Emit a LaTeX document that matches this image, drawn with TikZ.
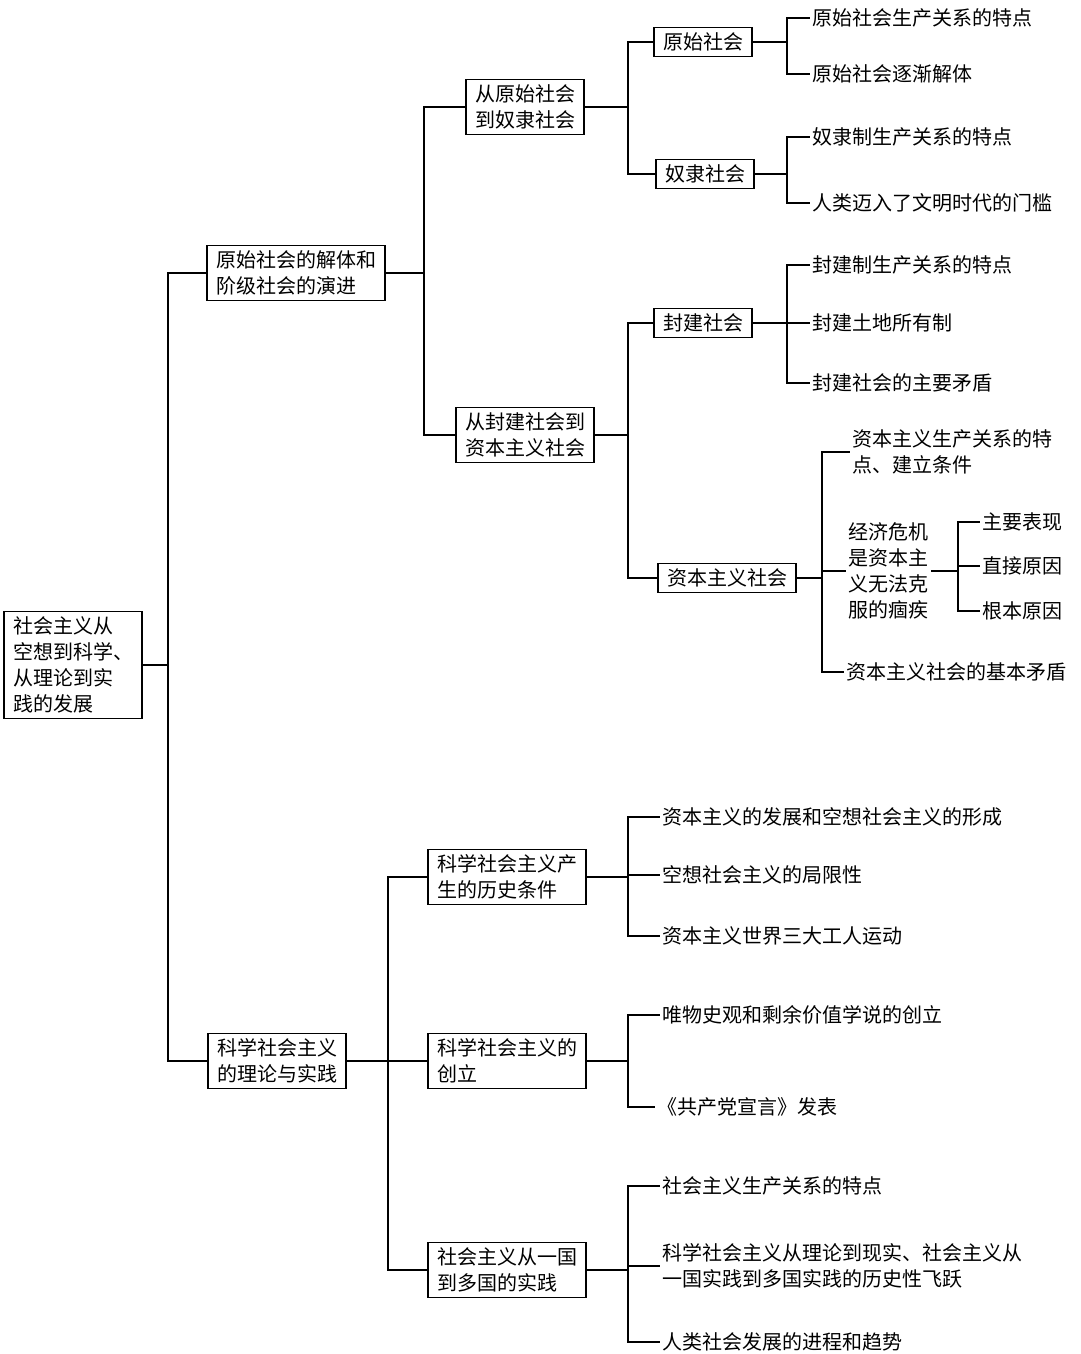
\documentclass[tikz,border=0pt]{standalone}
\usepackage{fontspec}
\setmainfont{Noto Sans CJK SC}
\begin{document}
\begin{tikzpicture}[x=1pt,y=-1pt,line width=1.1pt,
  box/.style={draw,align=left,inner xsep=9pt,inner ysep=5pt,font=\fontsize{20}{26}\selectfont},
  leaf/.style={anchor=west,align=left,inner sep=2pt,font=\fontsize{20}{26}\selectfont}]
\useasboundingbox (0,0) rectangle (1080,1354);
% boxes
\node[box] (r) at (73,665) {社会主义从\\空想到科学、\\从理论到实\\践的发展};
\node[box] (a) at (296,273) {原始社会的解体和\\阶级社会的演进};
\node[box] (b) at (277,1061) {科学社会主义\\的理论与实践};
\node[box] (a1) at (525,107) {从原始社会\\到奴隶社会};
\node[box] (a2) at (525,435) {从封建社会到\\资本主义社会};
\node[box] (y) at (703,42) {原始社会};
\node[box] (n) at (705,174) {奴隶社会};
\node[box] (f) at (703,323) {封建社会};
\node[box] (z) at (727,578) {资本主义社会};
\node[box] (b1) at (507,877) {科学社会主义产\\生的历史条件};
\node[box] (b2) at (507,1061) {科学社会主义的\\创立};
\node[box] (b3) at (507,1270) {社会主义从一国\\到多国的实践};
% leaves
\node[leaf] (y1) at (810,18) {原始社会生产关系的特点};
\node[leaf] (y2) at (810,74) {原始社会逐渐解体};
\node[leaf] (n1) at (810,137) {奴隶制生产关系的特点};
\node[leaf] (n2) at (810,203) {人类迈入了文明时代的门槛};
\node[leaf] (f1) at (810,265) {封建制生产关系的特点};
\node[leaf] (f2) at (810,323) {封建土地所有制};
\node[leaf] (f3) at (810,383) {封建社会的主要矛盾};
\node[leaf] (z1) at (850,452) {资本主义生产关系的特\\点、建立条件};
\node[leaf] (z2) at (846,571) {经济危机\\是资本主\\义无法克\\服的痼疾};
\node[leaf] (z3) at (844,672) {资本主义社会的基本矛盾};
\node[leaf] (j1) at (980,522) {主要表现};
\node[leaf] (j2) at (980,566) {直接原因};
\node[leaf] (j3) at (980,611) {根本原因};
\node[leaf] (c1) at (660,817) {资本主义的发展和空想社会主义的形成};
\node[leaf] (c2) at (660,875) {空想社会主义的局限性};
\node[leaf] (c3) at (660,936) {资本主义世界三大工人运动};
\node[leaf] (d1) at (660,1015) {唯物史观和剩余价值学说的创立};
\node[leaf] (d2) at (655,1107) {《共产党宣言》发表};
\node[leaf] (e1) at (660,1186) {社会主义生产关系的特点};
\node[leaf] (e2) at (660,1266) {科学社会主义从理论到现实、社会主义从\\一国实践到多国实践的历史性飞跃};
\node[leaf] (e3) at (660,1342) {人类社会发展的进程和趋势};
% spine coordinates
\coordinate (s0) at (168,0);
\coordinate (s1) at (424,0);
\coordinate (s2) at (388,0);
\coordinate (s3) at (628,0);
\coordinate (s4) at (787,0);
\coordinate (s5) at (822,0);
\coordinate (s6) at (958,0);
% connectors
\foreach \p/\s/\cs in {r/s0/{a,b}, a/s1/{a1,a2}, b/s2/{b1,b2,b3}, a1/s3/{y,n}, a2/s3/{f,z},
  y/s4/{y1,y2}, n/s4/{n1,n2}, f/s4/{f1,f2,f3}, z/s5/{z1,z2,z3}, z2/s6/{j1,j2,j3},
  b1/s3/{c1,c2,c3}, b2/s3/{d1,d2}, b3/s3/{e1,e2,e3}}{
  \draw (\p.east) -- (\p.east -| \s);
  \foreach \c in \cs { \draw (\p.east -| \s) |- (\c.west); }
}
\end{tikzpicture}
\end{document}
